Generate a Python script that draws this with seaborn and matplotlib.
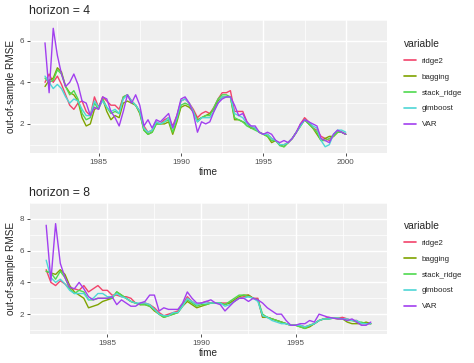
import numpy as np
import pandas as pd
import matplotlib
matplotlib.use("Agg")
import matplotlib.pyplot as plt
import seaborn as sns

# quarterly out-of-sample RMSE
series_names = ["ridge2", "bagging", "stack_ridge", "glmboost", "VAR"]
palette = ["#F2436B", "#7FA300", "#4FD94F", "#4ED6D6", "#A23FEF"]

time_h4 = np.arange(1981.75, 2000.01, 0.25)
ridge2_h4 = [4.0, 4.4, 4.0, 4.3, 3.9, 3.4, 2.9, 2.7, 3.0, 3.1, 2.6, 2.4, 3.3, 2.8, 3.3, 3.1, 2.9, 2.9, 2.7,
             3.3, 3.4, 3.1, 2.9, 2.6, 1.9, 1.6, 1.7, 2.1, 2.0, 2.2, 2.3, 1.9, 2.4, 3.1, 3.2, 3.0, 2.7,
             2.3, 2.5, 2.6, 2.5, 2.8, 3.2, 3.5, 3.5, 3.6, 2.6, 2.6, 2.6, 2.1, 1.8, 1.8, 1.6, 1.5, 1.5,
             1.3, 1.2, 1.0, 1.0, 1.1, 1.3, 1.6, 2.0, 2.3, 2.1, 1.8, 1.7, 1.4, 1.3, 1.2, 1.4, 1.6, 1.6, 1.5]
bagging_h4 = [3.8, 4.1, 4.2, 4.7, 4.5, 3.8, 3.5, 3.4, 3.1, 2.3, 1.9, 2.0, 2.7, 2.8, 3.2, 2.6, 2.2, 2.4, 2.3,
              3.0, 3.1, 3.0, 2.9, 2.5, 1.7, 1.5, 1.6, 2.0, 2.0, 2.0, 2.1, 1.5, 2.1, 2.8, 2.9, 2.8, 2.6,
              2.2, 2.3, 2.4, 2.5, 2.7, 3.1, 3.3, 3.3, 3.3, 2.2, 2.2, 2.1, 2.0, 1.8, 1.8, 1.6, 1.5, 1.4,
              1.1, 1.2, 1.0, 0.9, 1.1, 1.3, 1.6, 1.9, 2.2, 2.0, 1.8, 1.5, 1.2, 1.3, 1.4, 1.4, 1.6, 1.6, 1.5]
stack_ridge_h4 = [4.2, 4.0, 4.1, 4.6, 4.4, 3.8, 3.4, 3.6, 3.2, 2.5, 2.2, 2.3, 3.0, 2.7, 3.2, 2.8, 2.5, 2.6, 2.5,
                  3.3, 3.4, 3.1, 2.9, 2.6, 1.7, 1.5, 1.6, 2.0, 2.0, 2.1, 2.2, 1.6, 2.2, 2.9, 3.0, 2.9, 2.6,
                  2.1, 2.3, 2.4, 2.4, 2.8, 3.2, 3.4, 3.4, 3.3, 2.3, 2.2, 2.1, 1.9, 1.8, 1.7, 1.6, 1.5, 1.4,
                  1.2, 1.2, 0.95, 0.9, 1.1, 1.3, 1.6, 1.9, 2.2, 2.0, 1.8, 1.6, 1.2, 1.2, 1.3, 1.4, 1.6, 1.6, 1.5]
glmboost_h4 = [4.3, 4.0, 3.7, 3.9, 3.7, 3.3, 3.0, 3.2, 3.1, 2.7, 2.4, 2.4, 3.1, 2.8, 3.1, 2.8, 2.6, 2.7, 2.5,
               3.2, 3.4, 3.1, 2.9, 2.6, 1.8, 1.6, 1.7, 2.1, 2.0, 2.1, 2.3, 1.8, 2.3, 3.1, 3.2, 3.0, 2.6,
               2.1, 2.3, 2.3, 2.3, 2.6, 3.0, 3.3, 3.3, 3.3, 2.5, 2.4, 2.3, 2.0, 1.9, 1.8, 1.6, 1.5, 1.5,
               1.3, 1.2, 1.0, 1.0, 1.1, 1.3, 1.6, 1.9, 2.2, 2.1, 1.9, 1.8, 1.2, 0.9, 1.0, 1.5, 1.7, 1.7, 1.6]
var_h4 = [5.9, 3.5, 6.6, 5.3, 4.4, 3.8, 4.0, 4.4, 3.9, 3.1, 3.0, 2.4, 2.8, 2.7, 3.3, 3.2, 2.6, 2.3, 1.9,
          2.6, 3.4, 3.0, 3.4, 2.9, 1.9, 2.2, 1.8, 2.2, 2.1, 2.3, 2.5, 1.8, 2.4, 3.2, 3.3, 3.0, 2.5,
          1.6, 2.1, 2.0, 2.1, 2.6, 3.0, 3.2, 3.3, 3.3, 2.9, 2.4, 2.5, 2.1, 1.9, 1.9, 1.6, 1.5, 1.6,
          1.5, 1.2, 1.1, 1.2, 1.1, 1.3, 1.6, 2.0, 2.2, 2.1, 2.0, 1.9, 1.3, 1.2, 1.1, 1.5, 1.7, 1.6, 1.5]

time_h8 = np.arange(1981.75, 1999.01, 0.25)
ridge2_h8 = [4.8, 4.0, 3.8, 4.1, 3.9, 3.6, 3.6, 3.5, 3.8, 3.4, 3.6, 3.8, 3.5, 3.5, 3.2, 3.2, 3.1, 3.1, 3.0,
             2.7, 2.6, 2.7, 2.6, 2.4, 2.1, 1.9, 2.0, 2.1, 2.2, 2.6, 3.1, 2.8, 2.6, 2.7, 2.8, 2.7, 2.7,
             2.7, 2.7, 2.7, 2.8, 3.0, 3.1, 3.2, 3.0, 3.0, 1.8, 1.8, 1.7, 1.6, 1.5, 1.4, 1.3, 1.3, 1.3,
             1.2, 1.3, 1.4, 1.6, 1.7, 1.8, 1.75, 1.75, 1.8, 1.7, 1.6, 1.6, 1.4, 1.4, 1.4]
bagging_h8 = [4.7, 4.6, 4.5, 4.8, 4.5, 3.8, 3.4, 3.2, 3.0, 2.4, 2.5, 2.6, 2.8, 2.9, 3.0, 3.4, 3.2, 3.0, 2.8,
              2.7, 2.6, 2.6, 2.5, 2.2, 2.0, 1.8, 1.9, 2.0, 2.1, 2.5, 2.8, 2.6, 2.4, 2.5, 2.6, 2.7, 2.7,
              2.7, 2.6, 2.7, 2.9, 3.1, 3.2, 3.2, 3.0, 2.9, 1.8, 1.8, 1.7, 1.6, 1.5, 1.4, 1.3, 1.3, 1.2,
              1.1, 1.2, 1.4, 1.6, 1.7, 1.7, 1.75, 1.7, 1.7, 1.5, 1.4, 1.4, 1.4, 1.5, 1.4]
stack_ridge_h8 = [4.7, 4.6, 4.2, 4.7, 4.3, 3.6, 3.3, 3.5, 3.4, 2.9, 2.9, 3.0, 3.0, 3.0, 3.0, 3.4, 3.2, 3.0, 2.8,
                  2.7, 2.6, 2.6, 2.5, 2.3, 2.0, 1.8, 1.9, 2.0, 2.1, 2.6, 2.9, 2.7, 2.5, 2.6, 2.6, 2.7, 2.7,
                  2.7, 2.6, 2.8, 3.0, 3.2, 3.2, 3.1, 3.0, 2.9, 2.0, 1.8, 1.7, 1.6, 1.5, 1.4, 1.3, 1.3, 1.2,
                  1.1, 1.3, 1.4, 1.6, 1.7, 1.7, 1.75, 1.75, 1.7, 1.6, 1.6, 1.5, 1.5, 1.4, 1.4]
glmboost_h8 = [5.4, 4.3, 4.0, 4.2, 3.9, 3.5, 3.3, 3.3, 3.3, 2.9, 3.0, 3.3, 3.3, 3.1, 3.1, 3.3, 3.1, 3.0, 2.8,
               2.7, 2.7, 2.7, 2.6, 2.3, 2.0, 1.9, 1.9, 2.1, 2.1, 2.5, 3.0, 2.8, 2.6, 2.7, 2.7, 2.7, 2.7,
               2.7, 2.5, 2.6, 2.8, 3.0, 3.0, 3.1, 3.0, 2.8, 1.9, 1.8, 1.6, 1.5, 1.4, 1.4, 1.3, 1.3, 1.3,
               1.2, 1.3, 1.4, 1.6, 1.7, 1.7, 1.75, 1.75, 1.7, 1.7, 1.6, 1.6, 1.4, 1.4, 1.4]
var_h8 = [7.6, 4.1, 7.7, 5.2, 4.3, 3.7, 3.6, 4.0, 3.6, 3.1, 2.9, 3.0, 3.0, 3.0, 3.1, 2.6, 2.9, 2.7, 2.5,
          2.5, 2.7, 2.8, 3.2, 3.2, 2.2, 2.4, 2.3, 2.3, 2.3, 2.7, 3.4, 3.0, 2.7, 2.7, 2.8, 2.9, 2.7,
          2.6, 2.2, 2.5, 2.8, 3.0, 3.0, 2.8, 3.0, 2.9, 2.7, 2.4, 2.2, 2.0, 2.0, 1.6, 1.3, 1.3, 1.4,
          1.4, 1.6, 1.5, 2.0, 1.9, 1.8, 1.75, 1.7, 1.7, 1.6, 1.7, 1.5, 1.3, 1.3, 1.5]


def make_long(time, cols):
    wide = pd.DataFrame(dict(zip(series_names, cols)))
    wide["time"] = time
    return wide.melt(id_vars="time", var_name="variable", value_name="value")


df_h4 = make_long(time_h4, [ridge2_h4, bagging_h4, stack_ridge_h4, glmboost_h4, var_h4])
df_h8 = make_long(time_h8, [ridge2_h8, bagging_h8, stack_ridge_h8, glmboost_h8, var_h8])

sns.set_theme(style="darkgrid")
plt.rcParams["font.family"] = ["Liberation Sans", "DejaVu Sans"]

W, H = 474, 363
fig = plt.figure(figsize=(W / 100, H / 100), dpi=100)
ax4 = fig.add_axes([30 / W, 1 - 153 / H, 357 / W, 133 / H])
ax8 = fig.add_axes([30 / W, 1 - 334 / H, 357 / W, 131 / H])

panels = [
    (ax4, df_h4, "horizon = 4", (1980.84, 2000.91), (0.6, 6.9), [2, 4, 6], [1985, 1990, 1995, 2000], 1 - 39 / H, 4.0),
    (ax8, df_h8, "horizon = 8", (1980.89, 1999.86), (0.75, 8.02), [2, 4, 6, 8], [1985, 1990, 1995], 1 - 221 / H, 5.0),
]

for ax, df, title, xlim, ylim, yt, xt, leg_y, tpad in panels:
    ax.set_facecolor("#EFEFEF")
    sns.lineplot(data=df, x="time", y="value", hue="variable", palette=palette,
                 hue_order=series_names, linewidth=1.0, ax=ax)
    ax.set_xlim(*xlim)
    ax.set_ylim(*ylim)
    ax.set_xticks(xt)
    ax.set_yticks(yt)
    ax.set_xticks([x - 2.5 for x in xt] + [xt[-1] + 2.5], minor=True)
    ax.set_yticks([y - 1 for y in yt] + [yt[-1] + 1], minor=True)
    ax.grid(which="major", color="white", linewidth=1.0)
    ax.grid(which="minor", color="white", linewidth=0.5)
    ax.tick_params(which="major", length=2.5, width=0.6, color="#333333",
                   labelsize=5.8, labelcolor="#4D4D4D", pad=1.5, bottom=True, left=True)
    ax.tick_params(which="minor", length=0)
    for s in ax.spines.values():
        s.set_visible(False)
    ax.set_title(title, loc="left", fontsize=8.8, pad=tpad, x=-0.003)
    ax.set_xlabel("time", fontsize=7.2, labelpad=1)
    ax.set_ylabel("out-of-sample RMSE", fontsize=7.2, labelpad=3)
    leg = ax.legend(title="variable", loc="upper left", bbox_to_anchor=(404 / W, leg_y),
                    bbox_transform=fig.transFigure, frameon=False, fontsize=5.7,
                    title_fontsize=7.4, handlelength=1.55, labelspacing=1.05, handletextpad=0.7,
                    borderpad=0, borderaxespad=0)
    leg._legend_box.align = "left"
    for line in leg.get_lines():
        line.set_linewidth(1.2)

fig.savefig("out.png", dpi=100)
